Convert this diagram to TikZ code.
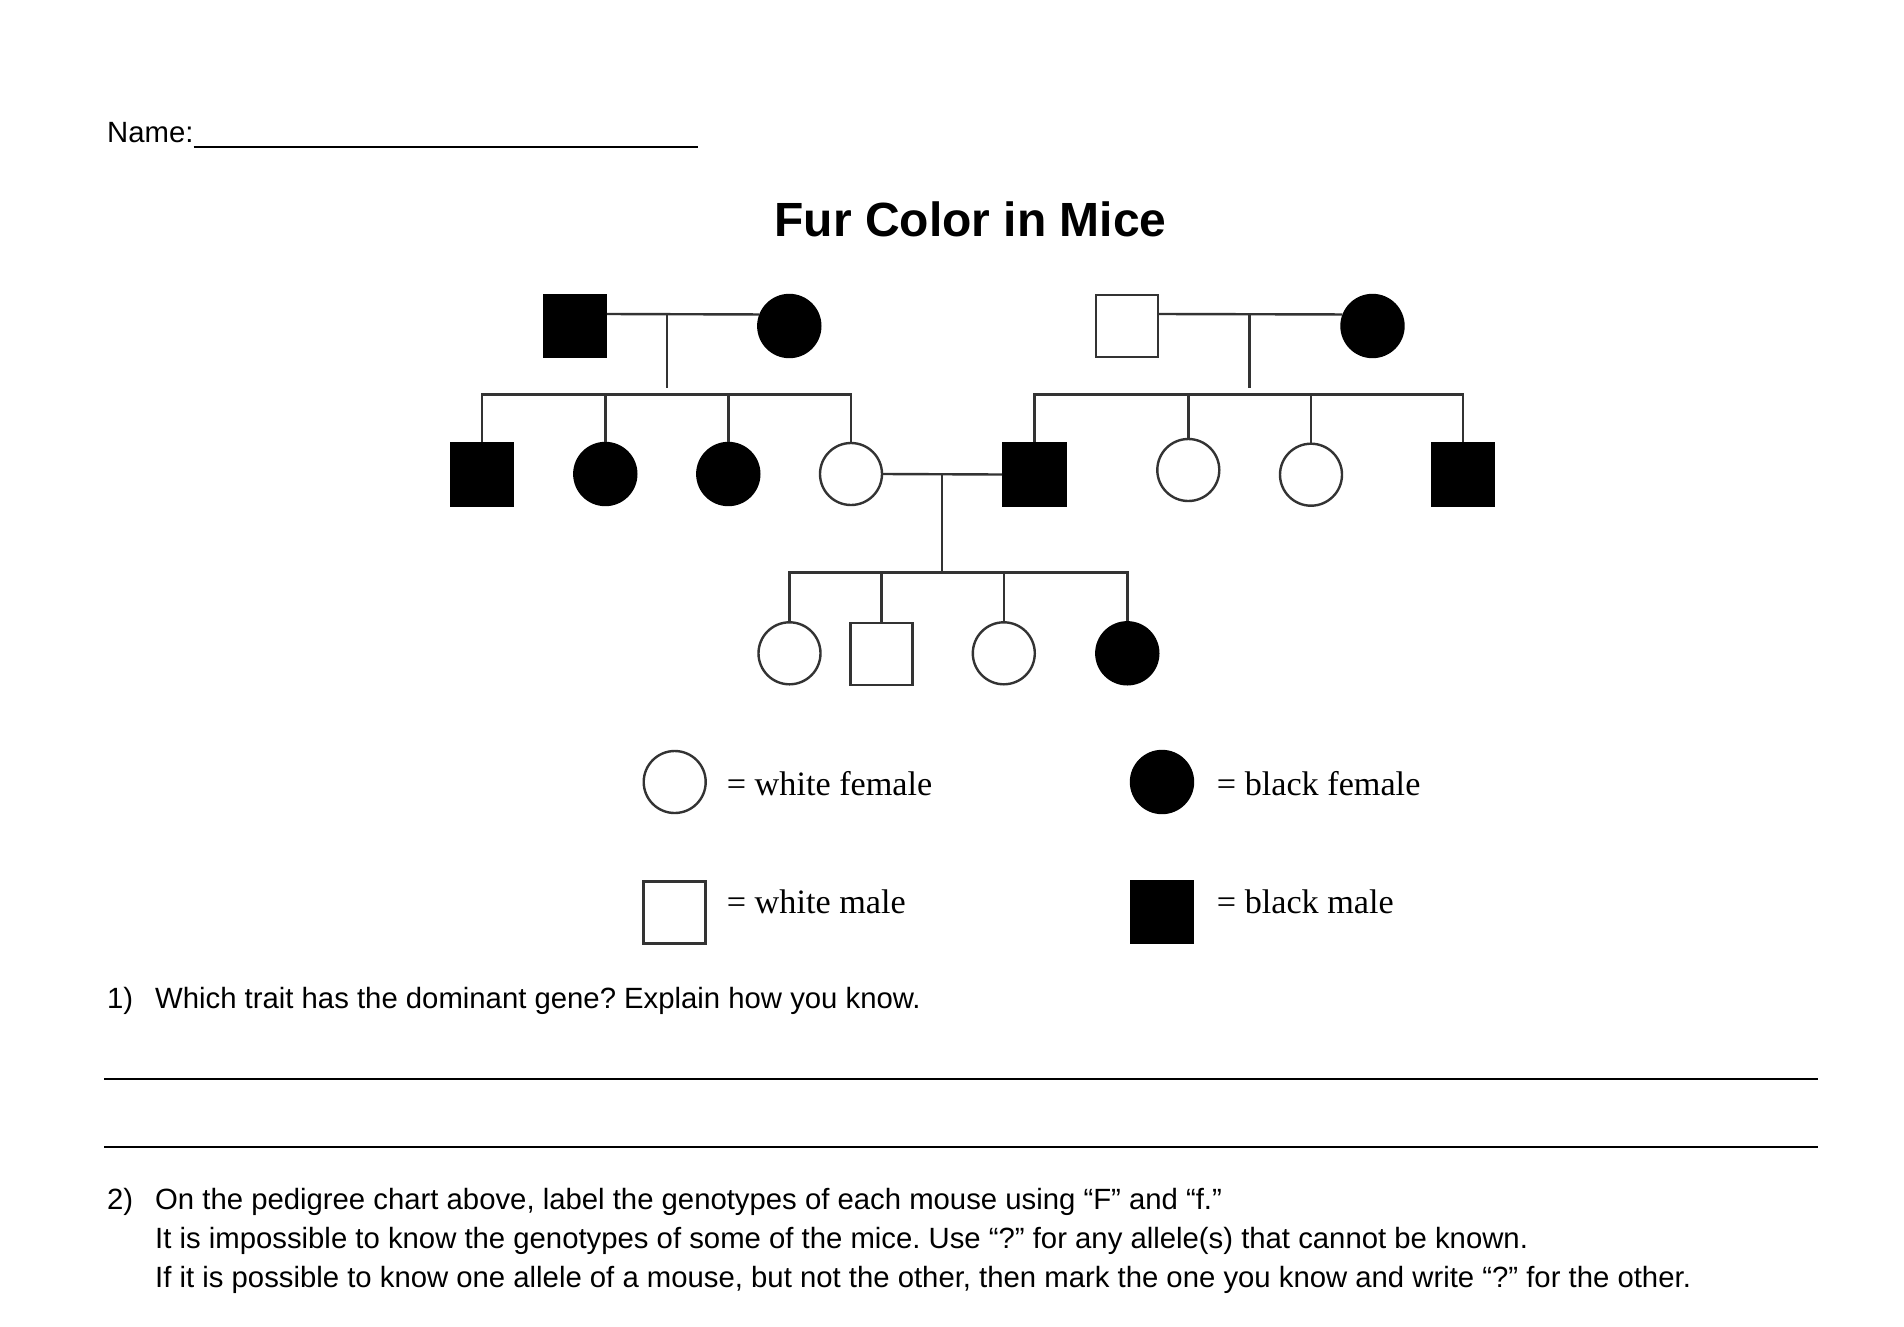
\documentclass[tikz,border=0pt]{standalone}
\usepackage{fontspec}
\setmainfont{Liberation Sans}
\newfontfamily\timesf{Liberation Serif}
\frenchspacing
\begin{document}
\begin{tikzpicture}[x=1pt,y=-1pt,
  lw/.style={line width=2.4pt, draw=black!80},
  male/.style={rectangle, minimum size=62pt, inner sep=0pt, lw, fill=white},
  female/.style={circle, minimum size=62pt, inner sep=0pt, lw, fill=white},
  blk/.style={fill=black, draw=black},
  conn/.style={line width=2.4pt, draw=black!80},
  rule/.style={line width=2.5pt, draw=black},
  body/.style={font=\frenchspacing\fontsize{29.3}{34}\selectfont, inner sep=0pt, anchor=base west},
  leg/.style={font=\timesf\fontsize{34.2}{40}\selectfont, inner sep=0pt, anchor=base west},
]
\useasboundingbox[fill=white] (0,0) rectangle (1904,1326);

% header
\node[body] (name) at (107,142) {Name:};
\coordinate (nameend) at (698,147);
\draw[rule] ([yshift=-5pt]name.base east) -- (nameend);
\node[font=\bfseries\fontsize{48}{55}\selectfont, inner sep=0pt, anchor=base] (title) at (970.5,236.7) {Fur Color in Mice};

% generation 1
\node[male,blk] (M1) at (574.7,326) {};
\node[female,blk] (F1) at (789.3,326) {};
\node[male] (M3) at (1127,326) {};
\node[female,blk] (F3) at (1372.5,326) {};

% generation 2
\node[male,blk] (C1) at (482,474.3) {};
\node[female,blk] (C2) at (605.3,474) {};
\node[female,blk] (C3) at (728.3,474) {};
\node[female] (C4) at (851,474) {};
\node[male,blk] (M2) at (1034.3,474.5) {};
\node[female] (W1) at (1188.3,470) {};
\node[female] (W2) at (1311,474.7) {};
\node[male,blk] (B4) at (1463,474.5) {};

% generation 3
\node[female] (G1) at (789.5,653.3) {};
\node[male] (G2) at (881.3,653.7) {};
\node[female] (G3) at (1003.8,653.3) {};
\node[female,blk] (G4) at (1127.3,653.3) {};

% helper coordinates
\coordinate (d1) at (667,314);
\coordinate (e1) at (667,388.3);
\coordinate (s1) at (667,394.3);
\coordinate (d2) at (1249.3,314);
\coordinate (e2) at (1249.3,388.3);
\coordinate (s2) at (1249.3,394.3);
\coordinate (d3) at (941.7,474);
\coordinate (s3) at (941.7,572.3);

% left family
\draw[conn] ([yshift=12pt]M1.east) -- (F1.159);
\draw[conn] (d1) -- (e1);
\draw[conn] (C1.north) -- (C1.north |- s1) -- (C4.north |- s1) -- (C4.north);
\draw[conn] (C2.north) -- (C2.north |- s1);
\draw[conn] (C3.north) -- (C3.north |- s1);

% right family
\draw[conn] ([yshift=12pt]M3.east) -- (F3.159);
\draw[conn] (d2) -- (e2);
\draw[conn] (M2.north) -- (M2.north |- s2) -- (B4.north |- s2) -- (B4.north);
\draw[conn] (W1.north) -- (W1.north |- s2);
\draw[conn] (W2.north) -- (W2.north |- s2);

% third generation
\draw[conn] (C4.east) -- (M2.west);
\draw[conn] (d3) -- (s3);
\draw[conn] (G1.north) -- (G1.north |- s3) -- (G4.north |- s3) -- (G4.north);
\draw[conn] (G2.north) -- (G2.north |- s3);
\draw[conn] (G3.north) -- (G3.north |- s3);

% legend
\node[female] (LWF) at (674.7,782) {};
\node[leg] (LWFt) at (726.7,795) {= white female};
\node[female,blk] (LBF) at (1162,782) {};
\node[leg] (LBFt) at (1216.7,795) {= black female};
\node[male] (LWM) at (674.3,912.3) {};
\node[leg] (LWMt) at (726.7,913) {= white male};
\node[male,blk] (LBM) at (1162,912) {};
\node[leg] (LBMt) at (1216.7,913) {= black male};

% questions
\node[body] (q1n) at (107,1008) {1)};
\node[body] (q1) at (155,1008) {Which trait has the dominant gene? Explain how you know.};
\coordinate (a1l) at (104,1079);
\coordinate (a1r) at (1818,1079);
\coordinate (a2l) at (104,1147);
\coordinate (a2r) at (1818,1147);
\draw[rule] (a1l) -- (a1r);
\draw[rule] (a2l) -- (a2r);

\node[body] (q2n) at (107,1209.5) {2)};
\node[body] (q2a) at (155,1209.5) {On the pedigree chart above, label the genotypes of each mouse using “F” and “f.”};
\node[body] (q2b) at (155,1248.5) {It is impossible to know the genotypes of some of the mice. Use “?” for any allele(s) that cannot be known.};
\node[body] (q2c) at (155,1287.5) {If it is possible to know one allele of a mouse, but not the other, then mark the one you know and write “?” for the other.};
\end{tikzpicture}
\end{document}
